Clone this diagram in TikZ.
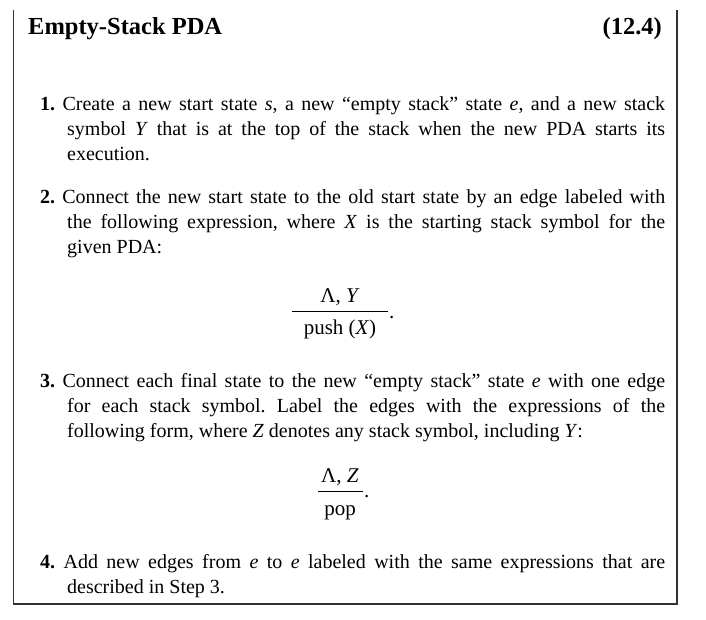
\documentclass[tikz,border=0pt]{standalone}
\usepackage{fontspec}
\setmainfont{Liberation Serif}
\begin{document}
\frenchspacing
\begin{tikzpicture}[x=1pt,y=-1pt,
 para/.style={anchor=north west,inner sep=0pt,text width=625pt,align=justify,font=\fontsize{20}{25}\selectfont\frenchspacing},
 frac/.style={inner sep=0pt,font=\fontsize{21}{22}\selectfont}]
\useasboundingbox (0,0) rectangle (706,619);
\draw[line width=1.5pt,black!80] (13.5,10) -- (13.5,604) -- (677,604) -- (677,10);
\node[anchor=base west,inner sep=0pt,font=\fontsize{24.5}{28}\bfseries] (title) at (28,34) {Empty-Stack PDA};
\node[anchor=base east,inner sep=0pt,font=\fontsize{24.5}{28}\bfseries] (num) at (662,34) {(12.4)};
\node[para] (p1) at (40,96) {\hangindent=27pt\hangafter=1 \textbf{1.} Create a new start state \textit{s}, a new “empty stack” state \textit{e}, and a new stack\linebreak symbol \textit{Y} that is at the top of the stack when the new PDA starts its\linebreak execution.\par};
\node[para] (p2) at (40,189) {\hangindent=27pt\hangafter=1 \textbf{2.} Connect the new start state to the old start state by an edge labeled with\linebreak the following expression, where \textit{X} is the starting stack symbol for the\linebreak given PDA:\par};
\node[frac] (n1) at (340,297) {Λ, \textit{Y}};
\node[frac] (d1) at (340,329) {push (\textit{X})};
\draw[line width=0.6pt] (292,311) -- (388,311);
\node[frac,anchor=west] (dot1) at (389,318) {.};
\node[para] (p3) at (40,373) {\hangindent=27pt\hangafter=1 \textbf{3.} Connect each final state to the new “empty stack” state \textit{e} with one edge\linebreak for each stack symbol. Label the edges with the expressions of the\linebreak following form, where \textit{Z} denotes any stack symbol, including \textit{Y}:\par};
\node[frac] (n2) at (340,477) {Λ, \textit{Z}};
\node[frac] (d2) at (340,513) {pop};
\draw[line width=0.6pt] (318,491) -- (363,491);
\node[frac,anchor=west] (dot2) at (364,497) {.};
\node[para] (p4) at (40,554) {\hangindent=27pt\hangafter=1 \textbf{4.} Add new edges from \textit{e} to \textit{e} labeled with the same expressions that are\linebreak described in Step 3.\par};
\end{tikzpicture}
\end{document}
